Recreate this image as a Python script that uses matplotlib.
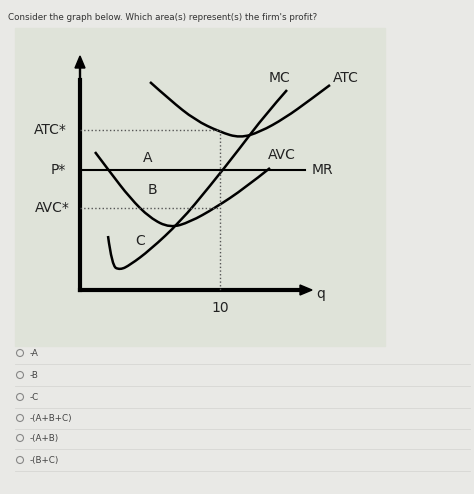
import matplotlib.pyplot as plt
from matplotlib.patches import Rectangle, FancyArrow, Circle, PathPatch
from matplotlib.path import Path

W, H = 474, 494
fig = plt.figure(figsize=(W/100, H/100), dpi=100)
fig.patch.set_facecolor('#e9e9e6')
ax = fig.add_axes([0, 0, 1, 1])
ax.set_xlim(0, W); ax.set_ylim(H, 0); ax.axis('off')

title = "Consider the graph below. Which area(s) represent(s) the firm's profit?"
options = ["A", "B", "C", "(A+B+C)", "(A+B)", "(B+C)"]
option_y = [353, 375, 397, 418, 438, 460]

mc_x = [108, 112, 120, 130, 150, 180, 210, 240, 265, 287]
mc_y = [236, 266, 270, 265, 250, 222, 186, 148, 115, 90]
atc_x = [150, 170, 195, 220, 240, 260, 285, 310, 330]
atc_y = [82, 100, 120, 132, 138, 132, 118, 100, 85]
avc_x = [95, 110, 130, 150, 170, 190, 215, 245, 270]
avc_y = [152, 172, 198, 218, 228, 222, 208, 188, 168]


def smooth_curve(xs, ys):
    # quadratic Bezier path with the given points as control points
    pts = list(zip(xs, ys))
    verts = [pts[0]]
    codes = [Path.MOVETO]
    for i in range(1, len(pts) - 1):
        mid = ((pts[i][0] + pts[i+1][0]) / 2, (pts[i][1] + pts[i+1][1]) / 2)
        end = pts[-1] if i == len(pts) - 2 else mid
        verts += [pts[i], end]
        codes += [Path.CURVE3, Path.CURVE3]
    ax.add_patch(PathPatch(Path(verts, codes), fill=False, ec='black', lw=1.8))


ax.text(8, 18, title, fontsize=6.3, color='#333333', va='center')
ax.add_patch(Rectangle((15, 28), 370, 318, color='#dfe3d9', zorder=0))

ax.plot([80, 80], [80, 290], color='black', lw=3)
ax.add_patch(FancyArrow(80, 84, 0, -16, width=1, head_width=10, head_length=12, color='black'))
ax.plot([80, 300], [290, 290], color='black', lw=3)
ax.add_patch(FancyArrow(298, 290, 2, 0, width=1, head_width=10, head_length=12, color='black'))

ax.plot([80, 220], [130, 130], color='#555555', lw=1, ls=':')
ax.plot([80, 220], [208, 208], color='#555555', lw=1, ls=':')
ax.plot([220, 220], [130, 290], color='#555555', lw=1, ls=':')
ax.plot([80, 305], [170, 170], color='black', lw=1.5)

smooth_curve(mc_x, mc_y)
smooth_curve(atc_x, atc_y)
smooth_curve(avc_x, avc_y)

lab = dict(fontsize=10, color='#222222', va='center', ha='center')
ax.text(50, 130, "ATC*", **lab)
ax.text(58, 170, "P*", **lab)
ax.text(52, 208, "AVC*", **lab)
ax.text(220, 308, "10", **lab)
ax.text(321, 294, "q", **lab)
ax.text(322, 170, "MR", **lab)
ax.text(280, 78, "MC", **lab)
ax.text(346, 78, "ATC", **lab)
ax.text(282, 155, "AVC", **lab)
ax.text(148, 158, "A", **lab)
ax.text(152, 190, "B", **lab)
ax.text(140, 241, "C", **lab)

for y, t in zip(option_y, options):
    ax.add_patch(Circle((20, y), 3.5, fill=False, ec='#888888', lw=0.8))
    ax.text(30, y, "-" + t, fontsize=6.3, color='#444444', va='center')
    ax.plot([15, 470], [y + 11, y + 11], color='#d6d6d3', lw=0.6)

fig.savefig('out.png', dpi=100, facecolor=fig.get_facecolor())
